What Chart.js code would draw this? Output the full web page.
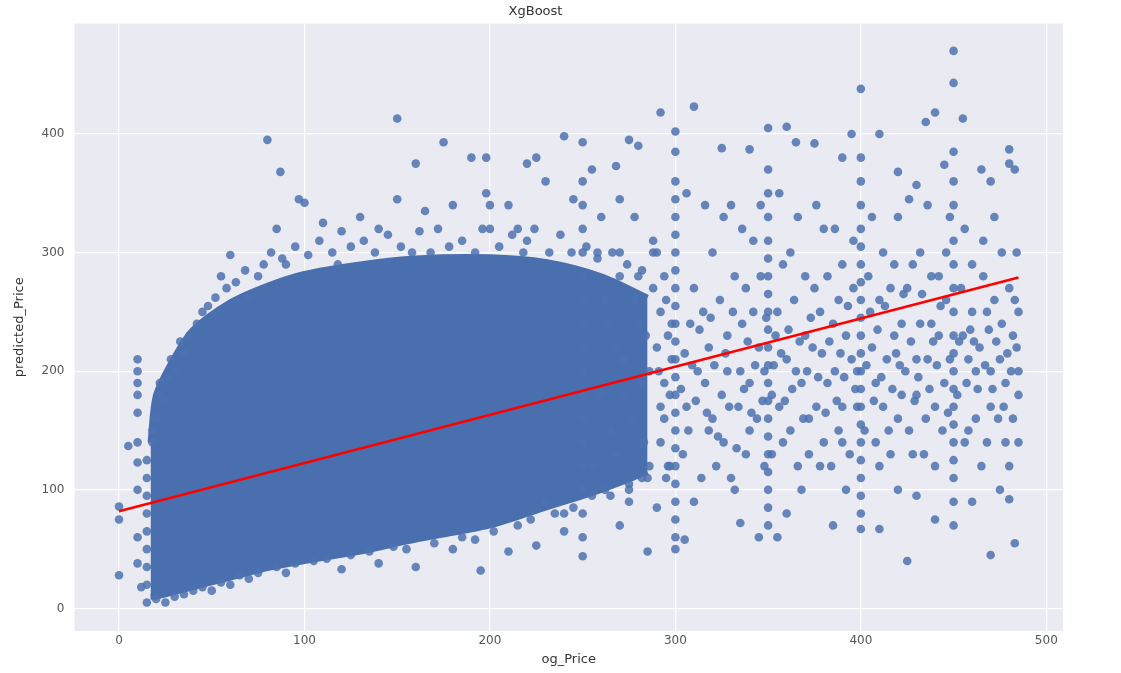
<!DOCTYPE html><html><head><meta charset="utf-8">
<script src="https://cdn.jsdelivr.net/npm/chart.js@4"></script>
<style>html,body{margin:0;background:#fff}#w{width:1121px;height:673px}</style></head><body><div id="w"><canvas id="c"></canvas></div>
<script>
const xTicks=[0,100,200,300,400,500];
const yTicks=[0,100,200,300,400];
// dense core envelope of the cloud
const coreX=[17,20,30,40,60,80,100,130,160,200,230,260,285];
const coreUpper=[140,180,212,235,258,272,282,290,295,296,292,280,262];
const coreLower=[10,10,14,18,26,34,40,48,58,70,85,100,115];
// individual points
const pts=[[80,395],[87,368],[97,345],[100,342],[150,413],[150,345],[160,375],[175,393],[198,350],[198,380],[190,380],[220,375],[225,380],[240,398],[250,393],[255,370],[268,373],[275,395],[280,390],[292,418],[300,402],[300,385],[310,423],[325,388],[340,387],[350,405],[360,406],[365,393],[375,392],[390,380],[395,400],[400,438],[410,400],[420,368],[430,357],[435,410],[440,418],[445,374],[450,470],[450,443],[450,385],[455,413],[465,370],[470,360],[480,387],[480,375],[483,370],
[0,86],[0,75],[0,28],[5,137],[10,200],[10,210],[10,190],[10,180],[10,165],[10,140],[10,123],[10,100],[10,60],[10,38],[12,18],[20,160],[25,175],[30,200],[35,215],[45,250],[55,280],[60,298],[70,262],[85,320],[90,290],[110,325],[120,318],[130,330],[140,320],[165,335],[180,340],[210,340],[230,360],[245,345],[260,330],[270,345],
[195,32],[250,44],[225,53],[285,48],[300,50],[305,58],[335,72],[345,60],[355,60],[360,80],[385,70],[400,67],[410,67],[425,40],[440,75],[450,70],[470,45],[483,55],[430,95],[420,100],[460,90],[475,100],[480,92],[410,120],[390,140],[50,15],[70,25],[90,30],[120,33],[140,38],[160,35],[180,50],[210,48],[240,65],[270,70],[290,85],
[15,5],[15,20],[15,35],[15,50],[15,65],[15,80],[15,95],[15,110],[15,125],[18,140],[18,150],[22,180],[22,190],[27,195],[28,210],[33,225],[38,230],[42,240],[48,255],[52,262],[58,270],[63,275],[68,285],[75,280],[78,290],[82,300],[88,295],[95,305],[102,298],[108,310],[115,300],[118,290],[125,305],[132,310],[138,300],[145,315],[152,305],[158,300],[162,318],[168,300],[172,320],[178,305],[185,310],[192,300],[196,320],[205,305],[212,315],[218,300],[224,320],[232,300],[238,315],[244,300],[252,305],[258,295],[266,300],[274,290],[282,285],[288,300],[294,280],
[20,8],[25,5],[30,10],[35,12],[40,15],[45,18],[55,22],[60,20],[65,28],[75,30],[85,35],[95,38],[105,40],[112,42],[125,45],[135,48],[148,52],[155,50],[170,55],[185,60],[192,58],[202,65],[215,70],[222,75],[235,80],[245,85],[255,95],[262,100],[275,105],[282,110],[295,110],
[255,120],[258,300],[262,260],[265,150],[268,220],[272,180],[275,100],[278,330],[280,240],[283,140],[286,200],[288,310],[292,170],[295,260],[297,120],[310,90],[312,200],[315,250],[318,150],[320,300],[322,120],[325,180],[328,230],[330,340],[332,100],[335,200],[338,270],[340,150],[342,310],[345,220],[348,120],[352,180],[355,250],[358,140],[362,300],[365,200],[368,100],[370,230],[372,160],[375,270],[378,120],[380,320],[382,190],[385,240],[388,150],[390,290],[392,100],[395,210],[398,170],[405,250],[408,190],[412,300],[415,150],[418,230],[420,330],[422,180],[425,270],[428,130],[430,210],[432,300],[435,160],[438,240],[440,120],[442,280],[445,190],[448,330],[455,230],[458,150],[460,290],[462,200],[465,120],[468,250],[470,170],[472,330],[475,210],[478,140],[480,270],[482,230],[485,180],[485,250],[485,140],[485,200],[484,300],[476,300],[466,310],[456,320],[446,300],[436,340],[426,345],[416,270],[406,330],[396,310],[386,320],[376,340],[366,330],[356,350],[346,340],[336,320],[326,330],[316,340],[306,350],
[292,140],[294,190],[296,230],[298,210],[304,130],[306,170],[308,240],[310,270],[314,110],[316,190],[318,220],[320,160],[324,260],[326,140],[328,200],[330,110],[332,280],[334,170],[336,240],[338,130],[340,190],[342,250],[344,160],[346,280],[348,200],[352,130],[354,230],[356,170],[358,290],[360,210],[362,150],[364,260],[366,120],[368,190],[370,280],[372,130],[374,220],[376,170],[378,250],[380,140],[382,280],[384,120],[386,200],[388,260],[390,170],[392,230],[394,130],[396,270],[398,200],[402,150],[404,280],[406,220],[408,140],[410,260],[412,170],[414,210],[416,130],[418,290],[420,160],[422,240],[424,200],[426,150],[428,290],[430,180],[432,240],[434,130],[436,210],[438,280],[440,170],[442,230],[444,150],[446,260],[448,210],[452,180],[454,270],[456,140],[458,210],[460,250],[462,160],[464,220],[466,280],[468,140],[470,200],[472,260],[474,160],[476,240],[478,190],[480,120],[482,160],[484,220],
[303,185],[305,215],[307,150],[309,205],[311,175],[313,235],[317,165],[319,245],[321,205],[323,145],[327,215],[329,170],[331,250],[333,135],[337,185],[339,225],[341,165],[343,205],[347,175],[349,245],[353,205],[357,215],[359,175],[361,235],[363,185],[367,225],[369,160],[371,200],[373,245],[377,195],[379,215],[381,165],[383,225],[387,175],[389,215],[391,195],[393,255],[397,185],[403,205],[407,175],[409,235],[411,195],[413,255],[417,185],[419,215],[421,205],[423,265],[427,225],[429,175],[431,195],[433,265],[437,185],[439,225],[441,205],[443,255],[447,165],[453,225],[457,190],[459,235],[461,225],[463,185],[467,205],[469,235],[471,185],[473,225],[477,170],[479,215],[481,200],[483,260],
[260,180],[264,240],[268,130],[270,280],[272,210],[276,160],[278,260],[282,190],[284,230],[286,120],[288,270],[290,220],[292,250],[294,160],[296,120],[298,240],[297,180],[291,200],
[300,60],[300,75],[300,90],[300,105],[300,120],[300,135],[300,150],[300,165],[300,180],[300,195],[300,210],[300,225],[300,240],[300,255],[300,270],[300,285],[300,300],[300,315],[300,330],[300,345],[300,360],
[350,70],[350,85],[350,100],[350,115],[350,130],[350,145],[350,160],[350,175],[350,190],[350,205],[350,220],[350,235],[350,250],[350,265],[350,280],[350,295],[350,310],[350,330],[350,350],[350,370],
[400,80],[400,95],[400,110],[400,125],[400,140],[400,155],[400,170],[400,185],[400,200],[400,215],[400,230],[400,245],[400,260],[400,275],[400,290],[400,305],[400,320],[400,340],[400,360],[400,380],
[450,90],[450,110],[450,125],[450,140],[450,155],[450,170],[450,185],[450,200],[450,215],[450,230],[450,250],[450,270],[450,290],[450,310],[450,340],[450,360],
[250,60],[250,80],[250,100],[250,120],[250,140],[250,160],[250,180],[250,200],[250,220],[250,240],[250,260],[250,280],[250,300],[250,320],[250,340],[250,360],[200,320],[200,340],[275,90],[285,110],[265,95],[240,80],[230,90],[220,310],[215,320],[270,300],[280,280],[290,300]];
const lineX=[0,485];
const lineY=[82,279];

const col='rgba(76,114,176,0.85)';
new Chart(document.getElementById('c'),{
 type:'scatter',
 data:{datasets:[
  {order:0,data:lineX.map((x,i)=>({x,y:lineY[i]})),showLine:true,borderColor:'#ff0000',borderWidth:2.5,pointRadius:0,fill:false},
  {order:1,data:pts.map(p=>({x:p[0],y:p[1]})),backgroundColor:col,borderColor:col,pointRadius:4.3,borderWidth:0},
  {order:2,data:coreX.map((x,i)=>({x,y:coreUpper[i]})),showLine:true,borderColor:'#4a6fae',borderWidth:6,backgroundColor:'#4a6fae',pointRadius:0,fill:'+1',tension:0.3},
  {order:3,data:coreX.map((x,i)=>({x,y:coreLower[i]})),showLine:true,borderColor:'#4a6fae',borderWidth:6,pointRadius:0,fill:false,tension:0.3}
 ]},
 options:{responsive:true,maintainAspectRatio:false,animation:false,
  layout:{padding:{left:8,right:58,top:2,bottom:6}},
  plugins:{legend:{display:false},tooltip:{enabled:false},
   title:{display:true,text:'XgBoost',color:'#333',font:{family:'DejaVu Sans',size:13,weight:'normal'},padding:{top:2,bottom:4}}},
  scales:{
   x:{type:'linear',min:-24,max:509,afterBuildTicks:a=>{a.ticks=xTicks.map(v=>({value:v}))},
    grid:{color:'#fff',lineWidth:1.2,drawTicks:false},border:{display:false},
    ticks:{color:'#555',font:{family:'DejaVu Sans',size:12},padding:3},
    title:{display:true,text:'og_Price',color:'#333',font:{family:'DejaVu Sans',size:13},padding:{top:0,bottom:0}}},
   y:{type:'linear',min:-19,max:493,afterBuildTicks:a=>{a.ticks=yTicks.map(v=>({value:v}))},
    grid:{color:'#fff',lineWidth:1.2,drawTicks:false},border:{display:false},
    ticks:{color:'#555',font:{family:'DejaVu Sans',size:12},padding:10},
    title:{display:true,text:'predicted_Price',color:'#333',font:{family:'DejaVu Sans',size:13}}}
  }},
 plugins:[{id:'bg',beforeDraw(c){const a=c.chartArea,g=c.ctx;g.save();g.fillStyle='#eaeaf2';g.fillRect(a.left,a.top,a.right-a.left,a.bottom-a.top);g.restore();}}]
});
</script></body></html>
